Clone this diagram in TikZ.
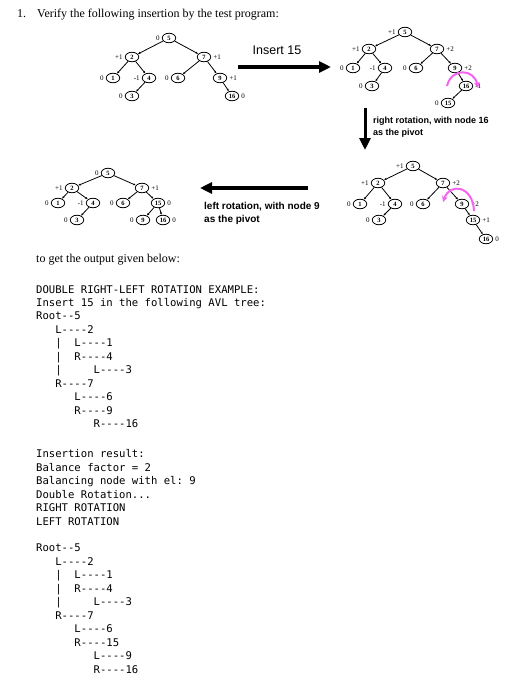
\documentclass[tikz,border=0pt]{standalone}
\usepackage{fontspec}
\setmainfont{Liberation Serif}
\setsansfont{Liberation Sans}
\setmonofont{DejaVu Sans Mono}
\usetikzlibrary{shapes.geometric,arrows.meta}
\definecolor{pivot}{RGB}{245,100,240}

\begin{document}
\begin{tikzpicture}[x=1pt, y=-1pt,
    nd/.style={draw, ellipse, line width=0.8pt, minimum width=13.5pt, minimum height=9.5pt, inner sep=0pt, font=\fontsize{6.5}{6.5}\selectfont\bfseries},
    bal/.style={font=\fontsize{7}{7}\selectfont, inner sep=0.5pt},
    edge/.style={-{Latex[length=2.5pt,width=2.2pt]}, line width=0.8pt},
    fat/.style={-{Triangle[length=12pt,width=11pt]}, line width=4pt},
    rot/.style={-{Stealth[length=6pt,width=6pt]}, line width=2pt, pivot},
    note/.style={font=\sffamily\bfseries\fontsize{9}{12.5}\selectfont, align=left, inner sep=0pt},
    code/.style={font=\ttfamily\fontsize{10.6}{13.45}\selectfont, align=left, inner sep=0pt},
    every label/.style={label distance=1.5pt},
]
\useasboundingbox (0,0) rectangle (527,682);

% heading
\node[anchor=base west, inner sep=0pt, font=\fontsize{12}{14}\selectfont] (num) at (17,18) {1.};
\node[anchor=base west, inner sep=0pt, font=\fontsize{12}{14}\selectfont] (head) at (37,18) {Verify the following insertion by the test program:};

% tree before insertion
\node[nd, label={[bal]left:0}] (a5) at (169,38) {5};
\node[nd, label={[bal]left:+1}] (a2) at (132,57) {2};
\node[nd, label={[bal]right:+1}] (a7) at (204,57) {7};
\node[nd, label={[bal]left:0}] (a1) at (113,78) {1};
\node[nd, label={[bal]left:-1}] (a4) at (149,78) {4};
\node[nd, label={[bal]left:0}] (a6) at (178,78) {6};
\node[nd, label={[bal]right:+1}] (a9) at (220,78) {9};
\node[nd, label={[bal]left:0}] (a3) at (132,96) {3};
\node[nd, label={[bal]right:0}] (a16) at (232,96) {16};
\draw[edge] (a5) -- (a2);
\draw[edge] (a5) -- (a7);
\draw[edge] (a2) -- (a1);
\draw[edge] (a2) -- (a4);
\draw[edge] (a4) -- (a3);
\draw[edge] (a7) -- (a6);
\draw[edge] (a7) -- (a9);
\draw[edge] (a9) -- (a16);

% insert step
\coordinate (insA) at (238,67);
\coordinate (insB) at (331,67);
\draw[fat] (insA) -- (insB);
\node[font=\sffamily\fontsize{12.5}{14}\selectfont, inner sep=0pt] (ins) at (277,50) {Insert 15};

% tree after insertion
\node[nd, label={[bal]left:+1}] (b5) at (405,32) {5};
\node[nd, label={[bal]left:+1}] (b2) at (369,49) {2};
\node[nd, label={[bal]right:+2}] (b7) at (437,49) {7};
\node[nd, label={[bal]left:0}] (b1) at (353,68) {1};
\node[nd, label={[bal]left:-1}] (b4) at (385,68) {4};
\node[nd, label={[bal]left:0}] (b6) at (416,68) {6};
\node[nd, label={[bal]right:+2}] (b9) at (455,68) {9};
\node[nd, label={[bal]left:0}] (b3) at (372,86) {3};
\node[nd, label={[bal]right:-1}] (b16) at (466,86) {16};
\node[nd, label={[bal]left:0}] (b15) at (448,103) {15};
\draw[edge] (b5) -- (b2);
\draw[edge] (b5) -- (b7);
\draw[edge] (b2) -- (b1);
\draw[edge] (b2) -- (b4);
\draw[edge] (b4) -- (b3);
\draw[edge] (b7) -- (b6);
\draw[edge] (b7) -- (b9);
\draw[edge] (b9) -- (b16);
\draw[edge] (b16) -- (b15);
\draw[rot] (447,86) .. controls (451,68) and (474,68) .. (478,88);

% right rotation step
\coordinate (rrA) at (365,108);
\coordinate (rrB) at (365,150);
\draw[fat, line width=3pt] (rrA) -- (rrB);
\node[note, anchor=base west] (rr) at (373,135.5) {right rotation, with node 16\\as the pivot};

% tree after right rotation
\node[nd, label={[bal]left:+1}] (c5) at (413,166) {5};
\node[nd, label={[bal]left:+1}] (c2) at (378,183) {2};
\node[nd, label={[bal]right:+2}] (c7) at (443,183) {7};
\node[nd, label={[bal]left:0}] (c1) at (360,204) {1};
\node[nd, label={[bal]left:-1}] (c4) at (395,204) {4};
\node[nd, label={[bal]left:0}] (c6) at (423,204) {6};
\node[nd, label={[bal]right:+2}] (c9) at (462,204) {9};
\node[nd, label={[bal]left:0}] (c3) at (379,220) {3};
\node[nd, label={[bal]right:+1}] (c15) at (473,220) {15};
\node[nd, label={[bal]right:0}] (c16) at (486,239) {16};
\draw[edge] (c5) -- (c2);
\draw[edge] (c5) -- (c7);
\draw[edge] (c2) -- (c1);
\draw[edge] (c2) -- (c4);
\draw[edge] (c4) -- (c3);
\draw[edge] (c7) -- (c6);
\draw[edge] (c7) -- (c9);
\draw[edge] (c9) -- (c15);
\draw[edge] (c15) -- (c16);
\draw[rot] (474,211) .. controls (473,186) and (450,182) .. (443,202);

% left rotation step
\coordinate (lrA) at (308,188);
\coordinate (lrB) at (200,188);
\draw[fat] (lrA) -- (lrB);
\node[note, anchor=base west, font=\sffamily\bfseries\fontsize{10}{13}\selectfont] (lr) at (204,222) {left rotation, with node 9\\as the pivot};

% final tree
\node[nd, label={[bal]left:0}] (d5) at (108,173) {5};
\node[nd, label={[bal]left:+1}] (d2) at (72,188) {2};
\node[nd, label={[bal]right:+1}] (d7) at (142,188) {7};
\node[nd, label={[bal]left:0}] (d1) at (58,203) {1};
\node[nd, label={[bal]left:-1}] (d4) at (93,203) {4};
\node[nd, label={[bal]left:0}] (d6) at (123,203) {6};
\node[nd, label={[bal]right:0}] (d15) at (158,203) {15};
\node[nd, label={[bal]left:0}] (d3) at (77,220) {3};
\node[nd, label={[bal]left:0}] (d9) at (143,220) {9};
\node[nd, label={[bal]right:0}] (d16) at (163,220) {16};
\draw[edge] (d5) -- (d2);
\draw[edge] (d5) -- (d7);
\draw[edge] (d2) -- (d1);
\draw[edge] (d2) -- (d4);
\draw[edge] (d4) -- (d3);
\draw[edge] (d7) -- (d6);
\draw[edge] (d7) -- (d15);
\draw[edge] (d15) -- (d9);
\draw[edge] (d15) -- (d16);

% program output
\node[anchor=base west, inner sep=0pt, font=\fontsize{12}{14}\selectfont] (intro) at (36,262) {to get the output given below:};
\node[code, anchor=base west] (out1) at (36,427.5) {DOUBLE RIGHT-LEFT ROTATION EXAMPLE:\\
Insert 15 in the following AVL tree:\\
Root--5\\
\phantom{xxx}L----2\\
\phantom{xxx}|\phantom{xx}L----1\\
\phantom{xxx}|\phantom{xx}R----4\\
\phantom{xxx}|\phantom{xxxxx}L----3\\
\phantom{xxx}R----7\\
\phantom{xxxxxx}L----6\\
\phantom{xxxxxx}R----9\\
\phantom{xxxxxxxxx}R----16};
\node[code, anchor=base west] (out2) at (36,673) {Insertion result:\\
Balance factor = 2\\
Balancing node with el: 9\\
Double Rotation...\\
RIGHT ROTATION\\
LEFT ROTATION\\[13.45pt]
Root--5\\
\phantom{xxx}L----2\\
\phantom{xxx}|\phantom{xx}L----1\\
\phantom{xxx}|\phantom{xx}R----4\\
\phantom{xxx}|\phantom{xxxxx}L----3\\
\phantom{xxx}R----7\\
\phantom{xxxxxx}L----6\\
\phantom{xxxxxx}R----15\\
\phantom{xxxxxxxxx}L----9\\
\phantom{xxxxxxxxx}R----16};
\end{tikzpicture}
\end{document}
